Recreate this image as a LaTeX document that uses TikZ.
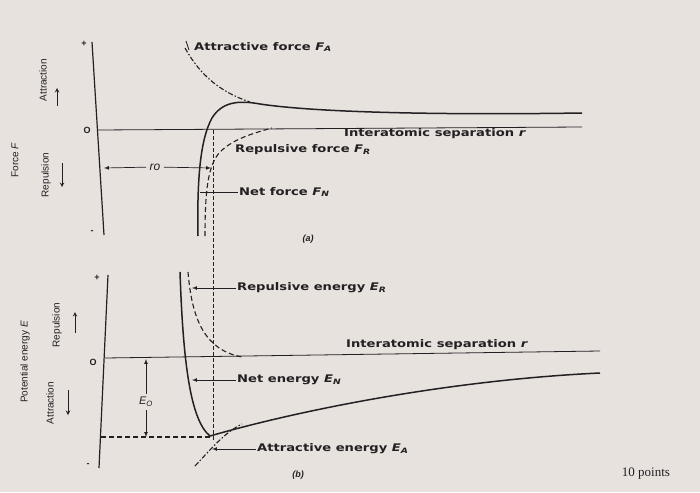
\documentclass[tikz,border=0pt]{standalone}
\usepackage{fontspec}
\setmainfont{Liberation Sans}
\newfontfamily\wide[FakeStretch=1.25]{DejaVu Sans}
\newfontfamily\serifnum{Liberation Serif}
\definecolor{paper}{RGB}{232,226,222}
\definecolor{ink}{RGB}{35,32,35}
\begin{document}
\begin{tikzpicture}[x=1pt,y=-1pt,
  ax/.style={ink,line width=1.2pt},
  thin/.style={ink,line width=0.8pt},
  curve/.style={ink,line width=1.5pt},
  dsh/.style={ink,line width=1.1pt,dash pattern=on 5pt off 3pt},
  dd/.style={ink,line width=1.1pt,dash pattern=on 5pt off 2pt on 1.5pt off 2pt},
  vd/.style={ink,line width=0.8pt,dash pattern=on 4pt off 2pt},
  lab/.style={ink,font=\wide\bfseries\fontsize{10.5}{12}\selectfont,anchor=west,inner sep=1pt},
  side/.style={ink,font=\fontsize{10}{11}\selectfont,rotate=90,inner sep=1pt},
  arr/.style={ink,line width=0.7pt,-latex},
  sarr/.style={ink,line width=1pt,-stealth}]
\fill[paper] (0,0) rectangle (700,492);
\useasboundingbox (0,0) rectangle (700,492);
% ---------- (a) ----------
\coordinate (a1) at (92,42); \coordinate (a2) at (104,235);
\draw[ax] (a1) -- (a2);
\node[ink,font=\bfseries\small] (ap) at (84,44) {+};
\node[ink,font=\bfseries\small] (am) at (92,232) {-};
\node[ink,font=\bfseries\small] (ao) at (87,130) {O};
\coordinate (h1) at (98,130); \coordinate (h2) at (582,127);
\draw[thin] (h1) -- (h2);
\node[lab] (isa) at (343,134) {Interatomic separation \textit{r}};
% net force
\draw[curve] (198,236) .. controls (197,180) and (200,140) .. (212,118)
  .. controls (222,102) and (238,100) .. (260,104)
  .. controls (320,113) and (450,115) .. (582,113);
% attractive
\draw[dd] (185,48) .. controls (200,75) and (220,92) .. (250,102);
\draw[thin] (186,41) -- (189,50);
\node[lab] (fa) at (193,47) {Attractive force \textit{F\textsubscript{A}}};
% repulsive
\draw[dsh] (205,236) .. controls (205,190) and (208,165) .. (220,152)
  .. controls (232,140) and (250,134) .. (272,128);
\node[lab] (fr) at (234,150) {Repulsive force \textit{F\textsubscript{R}}};
% r0 line
\coordinate (r0t) at (213,130); \coordinate (r0b) at (213,440);
\draw[vd] (r0t) -- (r0b);
\node[ink,font=\itshape\fontsize{12}{13}\selectfont] (ro) at (155,167) {ro};
\coordinate (roL) at (104,168); \coordinate (roR) at (211,168);
\draw[arr] (ro) -- (roL);
\draw[arr] (ro) -- (roR);
\coordinate (fnl) at (200,192);
\node[lab] (fn) at (238,192) {Net force \textit{F\textsubscript{N}}};
\draw[thin] (fn.west) -- (fnl);
\node[ink,font=\bfseries\itshape\small] (la) at (308,239) {(a)};
\node[side] (ff) at (15,160) {Force \textit{F}};
\node[side] (att) at (43,80) {Attraction};
\coordinate (attA) at (57,106); \coordinate (attB) at (57,88);
\draw[sarr] (attA) -- (attB);
\node[side] (rep) at (46,175) {Repulsion};
\coordinate (repA) at (62,163); \coordinate (repB) at (62,187);
\draw[sarr] (repA) -- (repB);
% ---------- (b) ----------
\coordinate (b1) at (108,275); \coordinate (b2) at (99,468);
\draw[ax] (b1) -- (b2);
\node[ink,font=\bfseries\small] (bp) at (97,278) {+};
\node[ink,font=\bfseries\small] (bm) at (88,465) {-};
\node[ink,font=\bfseries\small] (bo) at (93,362) {O};
\coordinate (g1) at (105,358); \coordinate (g2) at (600,351);
\draw[thin] (g1) -- (g2);
\node[lab] (isb) at (345,345) {Interatomic separation \textit{r}};
% net energy
\draw[curve] (180,272) .. controls (183,360) and (190,420) .. (210,436)
  .. controls (300,410) and (450,380) .. (600,373);
% repulsive energy
\draw[dsh] (188,272) .. controls (192,320) and (205,350) .. (242,357);
% attractive energy
\draw[dd] (195,466) .. controls (210,450) and (225,432) .. (242,424);
% min dashed & E0
\coordinate (mn) at (210,437); \coordinate (mnL) at (101,437);
\draw[dsh] (mnL) -- (mn);
\node[ink,font=\itshape\fontsize{11}{12}\selectfont] (e0) at (146,402) {E\textsubscript{O}};
\coordinate (e0t) at (146,359); \coordinate (e0b) at (146,437);
\draw[arr] (e0) -- (e0t);
\draw[arr] (e0) -- (e0b);
\node[lab] (er) at (236,288) {Repulsive energy \textit{E\textsubscript{R}}};
\coordinate (erp) at (192,288);
\draw[arr] (er.west) -- (erp);
\node[lab] (en) at (236,380) {Net energy \textit{E\textsubscript{N}}};
\coordinate (enp) at (192,380);
\draw[arr] (en.west) -- (enp);
\node[lab] (ea) at (256,449) {Attractive energy \textit{E\textsubscript{A}}};
\coordinate (eap) at (212,449);
\draw[arr] (ea.west) -- (eap);
\node[ink,font=\bfseries\itshape\small] (lb) at (298,475) {(b)};
\node[side] (pe) at (25,362) {Potential energy \textit{E}};
\node[side] (rep2) at (57,325) {Repulsion};
\coordinate (r2A) at (75,333); \coordinate (r2B) at (75,312);
\draw[sarr] (r2A) -- (r2B);
\node[side] (att2) at (50,403) {Attraction};
\coordinate (a2A) at (68,390); \coordinate (a2B) at (68,415);
\draw[sarr] (a2A) -- (a2B);
\node[ink,font=\serifnum\fontsize{13}{14}\selectfont] (pts) at (646,474) {10 points};
\end{tikzpicture}
\end{document}
